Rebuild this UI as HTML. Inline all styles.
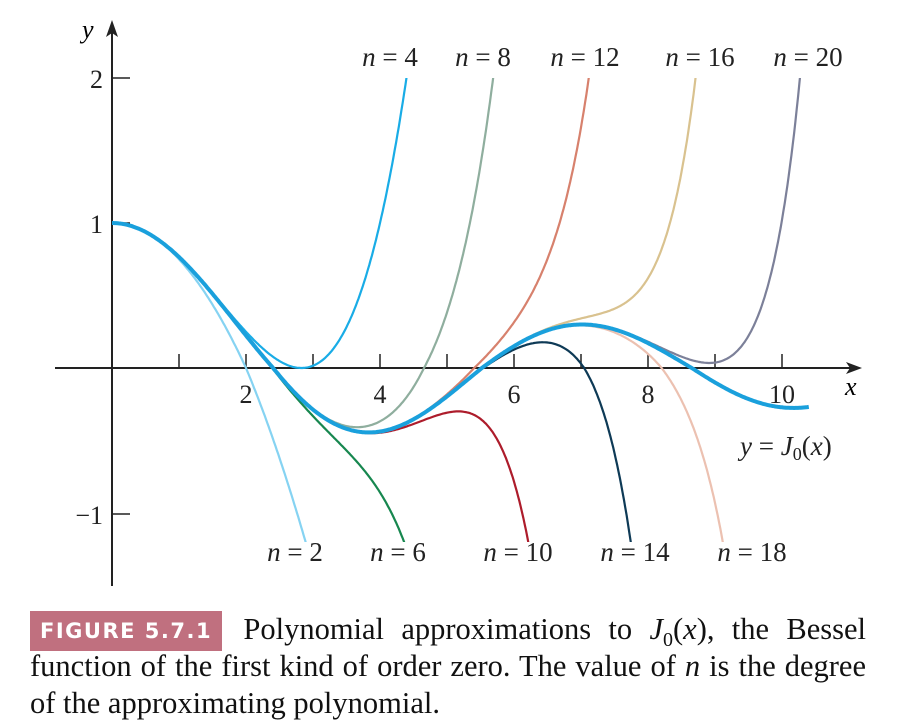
<!DOCTYPE html>
<html><head><meta charset="utf-8"><style>
body{margin:0;background:#fff;width:904px;height:727px;overflow:hidden;position:relative}
svg{position:absolute;left:0;top:0}
.cap{position:absolute;left:30px;top:611px;width:836px;height:114px;overflow:hidden;font-family:"Liberation Serif",serif;font-size:30.5px;color:#111}
.ln{height:37px;line-height:37px;white-space:nowrap}
.j{text-align:justify;text-align-last:justify;white-space:normal}
.fig{display:inline-block;background:#c0707f;color:#fff;font-family:"DejaVu Sans","Liberation Sans",sans-serif;font-weight:bold;font-size:21px;letter-spacing:1.5px;padding:0 10px;height:40px;line-height:40px;vertical-align:top;margin-right:4px}
</style></head><body>
<svg id="chart" width="904" height="600" font-family="Liberation Serif, serif"></svg>
<div class="cap">
<div class="ln j"><span class="fig">FIGURE 5.7.1</span> Polynomial approximations to <i>J</i><sub style="font-size:20px">0</sub>(<i>x</i>), the Bessel</div>
<div class="ln j">function of the first kind of order zero. The value of <i>n</i> is the degree</div>
<div class="ln">of the approximating polynomial.</div>
</div>
<script>
const degrees=[2,4,6,8,10,12,14,16,18,20];
const colors=["#86d3f2","#19ace6","#17874f","#8fae9e","#ad1c2b","#d7816d","#0e3a56","#d9c28f","#ecc1b1","#7c8099"];
const xTicks=[1,2,3,4,5,6,7,8,9,10];
const xTickLabels=["2","4","6","8","10"];
const yTickLabels=["2","1","−1"];
const yTicks=[2,1,-1];
// Taylor coefficients of J0 in powers of x^2: (-1)^k/(4^k (k!)^2)
const coeffs=[1,-0.25,0.015625,-0.00043403,0.0000067817,-6.7817e-8,4.7095e-10,-2.4028e-12,9.3859e-15,-2.8969e-17,7.2422e-20];
const sx=x=>112+67*x, sy=y=>368-(y<0?160:145)*y;
const svg=document.getElementById('chart');const NS="http://www.w3.org/2000/svg";
function mk(t,a,p){const e=document.createElementNS(NS,t);for(const k in a)e.setAttribute(k,a[k]);(p||svg).appendChild(e);return e;}
const defs=mk('defs',{});const cp=mk('clipPath',{id:'clip'},defs);mk('rect',{x:0,y:78,width:904,height:464},cp);
function poly(n,x){let s=0;for(let k=0;k<=n/2;k++)s+=coeffs[k]*Math.pow(x,2*k);return s;}
let e=mk('line',{x1:55,y1:368,x2:852,y2:368,stroke:'#222','stroke-width':2});

e=mk('polygon',{points:'862,368 846,362 850,368 846,374',fill:'#222'});

e=mk('line',{x1:112,y1:586,x2:112,y2:32,stroke:'#222','stroke-width':2});

e=mk('polygon',{points:'112,20 106,37 112,33 118,37',fill:'#222'});

xTicks.forEach(t=>{const l=mk('line',{x1:sx(t),y1:354,x2:sx(t),y2:368,stroke:'#222','stroke-width':1.5});
});
xTickLabels.forEach((s,i)=>{const t=mk('text',{x:sx(2*(i+1)),y:403,'font-size':26,'text-anchor':'middle',fill:'#222'});t.textContent=s;
});
yTicks.forEach((v,i)=>{const yy=v<0?514:sy(v);const l=mk('line',{x1:112,y1:yy,x2:130,y2:yy,stroke:'#222','stroke-width':1.5});

const t=mk('text',{x:103,y:yy+10,'font-size':26,'text-anchor':'end',fill:'#222'});t.textContent=yTickLabels[i];
});
e=mk('text',{x:82,y:38,'font-size':26,'font-style':'italic'});e.textContent='y';

e=mk('text',{x:845,y:395,'font-size':26,'font-style':'italic'});e.textContent='x';

degrees.forEach((n,i)=>{let d='';for(let x=0;x<=11;x+=0.02){let y=poly(n,x);y=Math.max(-3,Math.min(4,y));d+=(d?'L':'M')+sx(x).toFixed(1)+','+sy(y).toFixed(1);}
const p=mk('path',{d:d,fill:'none',stroke:colors[i],'stroke-width':2.2,'clip-path':'url(#clip)'});
});
let d='';for(let x=0;x<=10.4;x+=0.02){let s=0,term=1;for(let k=0;k<40;k++){s+=term;term*=-(x*x/4)/((k+1)*(k+1));}d+=(d?'L':'M')+sx(x).toFixed(1)+','+sy(s).toFixed(1);}
e=mk('path',{d:d,fill:'none',stroke:'#1aa0dc','stroke-width':4});

const topPos=[390,483,585,700,808],botPos=[295,398,518,635,752];
degrees.forEach((n,i)=>{const top=i%2==1;const x=top?topPos[(i-1)/2]:botPos[i/2];
const t=mk('text',{x:x,y:top?66:561,'font-size':27,'text-anchor':'middle',fill:'#222'});
t.innerHTML='<tspan font-style="italic">n</tspan> = '+n;
});
e=mk('text',{x:740,y:455,'font-size':27,fill:'#222'});
e.innerHTML='<tspan font-style="italic">y</tspan> = <tspan font-style="italic">J</tspan><tspan font-size="18" dy="5">0</tspan><tspan dy="-5">(</tspan><tspan font-style="italic">x</tspan>)';

</script>
</body></html>
